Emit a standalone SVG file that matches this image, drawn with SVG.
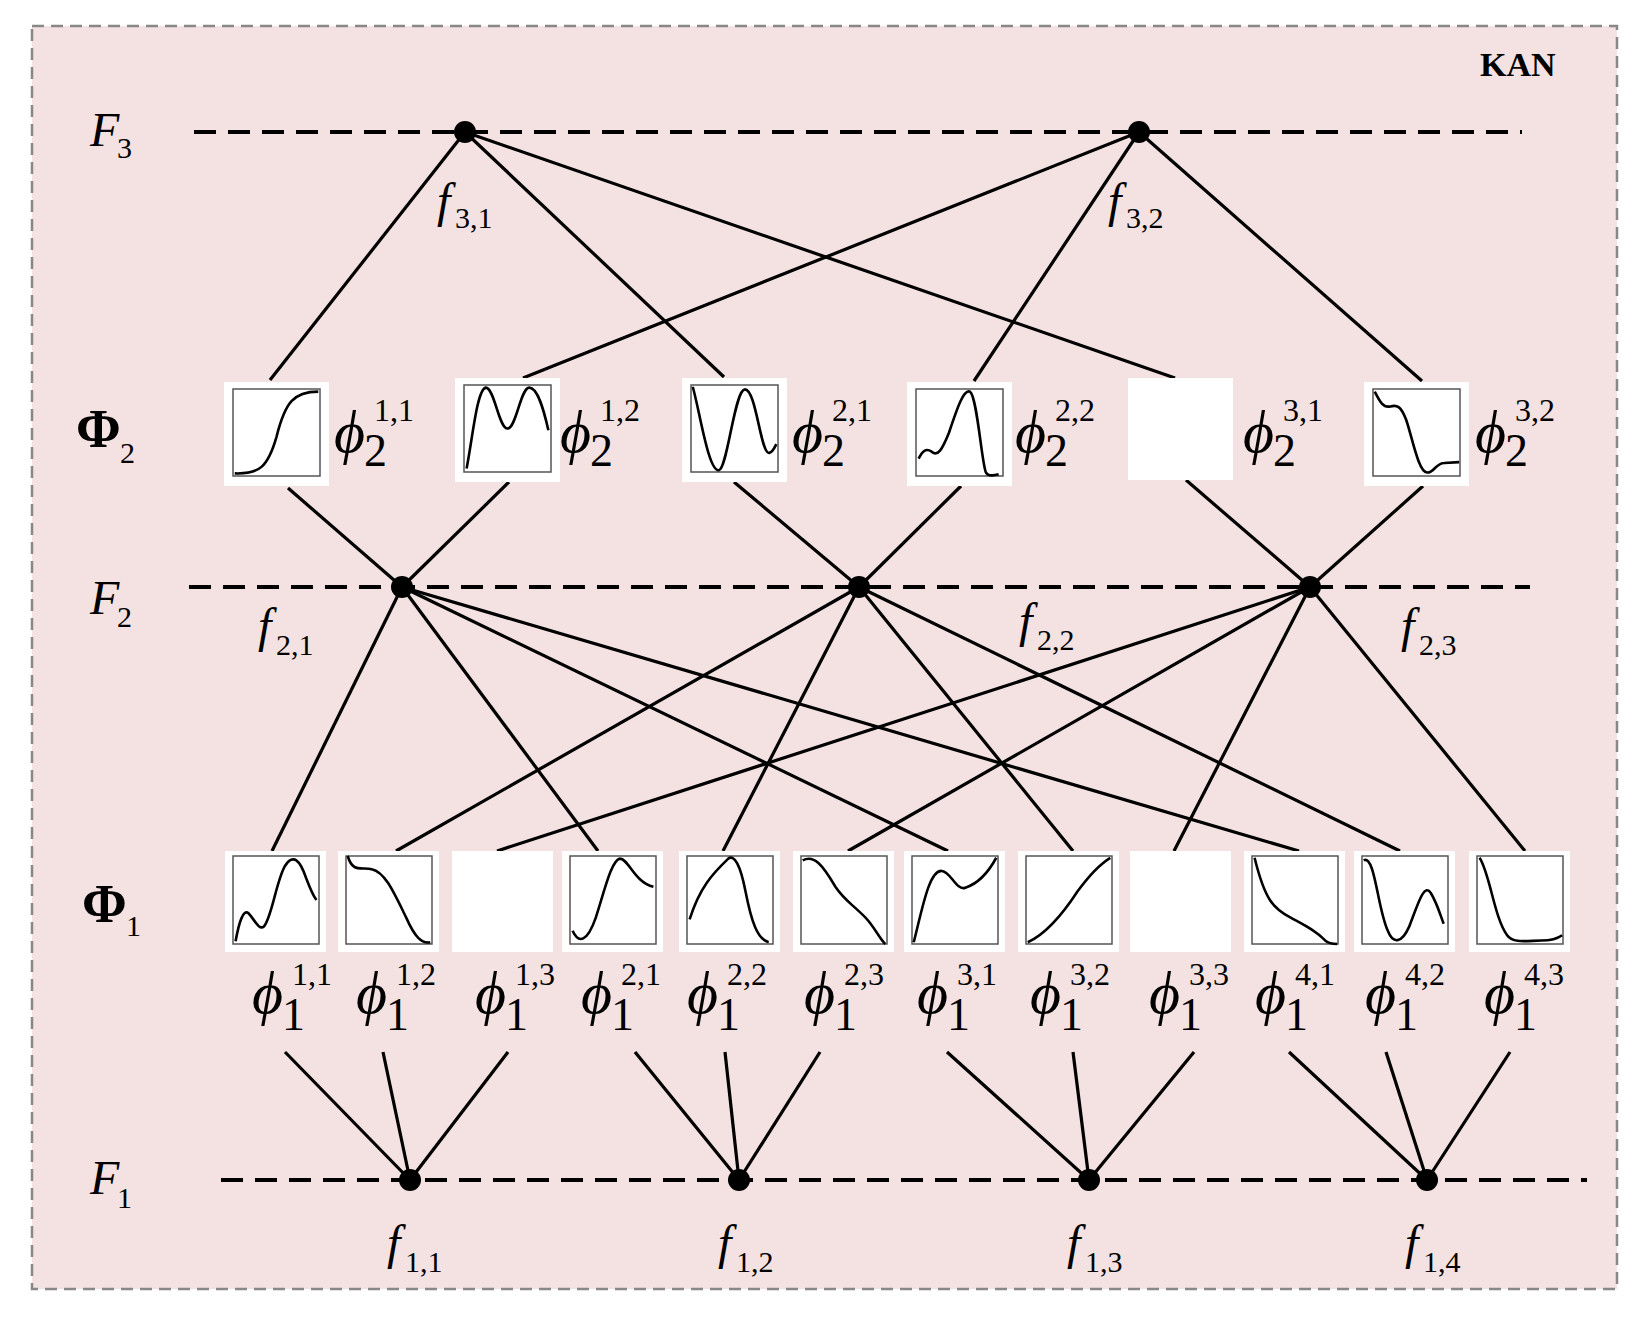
<svg xmlns="http://www.w3.org/2000/svg" width="1644" height="1320" viewBox="0 0 1644 1320">
<style>
.t{font-family:"Liberation Serif",serif;fill:#000}
.i{font-style:italic}
.ph{font-family:"Liberation Serif","DejaVu Serif",serif;font-style:italic;font-size:60px}
.sup{font-family:"Liberation Serif",serif;font-size:32px}
.sub{font-family:"Liberation Serif",serif;font-size:46px}
.fs{font-family:"Liberation Serif",serif;font-size:30px}
.c{stroke:#000;stroke-width:3.2;fill:none}
.lay{stroke:#000;stroke-width:4;stroke-dasharray:22,12;fill:none}
.pan{fill:#fff}
.fr{fill:none;stroke:#555;stroke-width:1.5}
.cv{fill:none;stroke:#000;stroke-width:3}
</style>
<rect x="0" y="0" width="1644" height="1320" fill="#fff"/>
<rect x="32" y="26" width="1585" height="1263" fill="#f3e2e1" stroke="#888" stroke-width="2.5" stroke-dasharray="12,7"/>
<text class="t" x="1480" y="76" font-size="34" font-weight="bold">KAN</text>
<g id="layers">
<line class="lay" x1="194" y1="132" x2="1522" y2="132"/>
<line class="lay" x1="189" y1="587" x2="1530" y2="587"/>
<line class="lay" x1="221" y1="1180" x2="1587" y2="1180"/>
</g>
<g id="connectors">
<line class="c" x1="465" y1="132" x2="270" y2="380"/>
<line class="c" x1="465" y1="132" x2="724" y2="377"/>
<line class="c" x1="465" y1="132" x2="1175" y2="378"/>
<line class="c" x1="1139" y1="132" x2="523" y2="378"/>
<line class="c" x1="1139" y1="132" x2="974" y2="381"/>
<line class="c" x1="1139" y1="132" x2="1422" y2="381"/>
<line class="c" x1="402" y1="587" x2="288" y2="488"/>
<line class="c" x1="402" y1="587" x2="509" y2="482"/>
<line class="c" x1="859" y1="587" x2="734" y2="482"/>
<line class="c" x1="859" y1="587" x2="961" y2="486"/>
<line class="c" x1="1310" y1="587" x2="1186" y2="480"/>
<line class="c" x1="1310" y1="587" x2="1423" y2="486"/>
<line class="c" x1="402" y1="587" x2="272" y2="851"/>
<line class="c" x1="402" y1="587" x2="598" y2="851"/>
<line class="c" x1="402" y1="587" x2="948" y2="851"/>
<line class="c" x1="402" y1="587" x2="1299" y2="851"/>
<line class="c" x1="859" y1="587" x2="396" y2="851"/>
<line class="c" x1="859" y1="587" x2="723" y2="851"/>
<line class="c" x1="859" y1="587" x2="1073" y2="851"/>
<line class="c" x1="859" y1="587" x2="1400" y2="851"/>
<line class="c" x1="1310" y1="587" x2="497" y2="851"/>
<line class="c" x1="1310" y1="587" x2="848" y2="851"/>
<line class="c" x1="1310" y1="587" x2="1174" y2="851"/>
<line class="c" x1="1310" y1="587" x2="1525" y2="851"/>
<line class="c" x1="410" y1="1180" x2="285" y2="1052"/>
<line class="c" x1="410" y1="1180" x2="383" y2="1052"/>
<line class="c" x1="410" y1="1180" x2="508" y2="1052"/>
<line class="c" x1="739" y1="1180" x2="635" y2="1052"/>
<line class="c" x1="739" y1="1180" x2="725" y2="1052"/>
<line class="c" x1="739" y1="1180" x2="820" y2="1052"/>
<line class="c" x1="1089" y1="1180" x2="947" y2="1052"/>
<line class="c" x1="1089" y1="1180" x2="1073" y2="1052"/>
<line class="c" x1="1089" y1="1180" x2="1194" y2="1052"/>
<line class="c" x1="1427" y1="1180" x2="1289" y2="1052"/>
<line class="c" x1="1427" y1="1180" x2="1386" y2="1052"/>
<line class="c" x1="1427" y1="1180" x2="1510" y2="1052"/>
</g>
<g id="nodes">
<g id="f31"><circle cx="465" cy="132" r="11"/><text class="t i" x="437" y="217" font-size="48">f</text><text class="fs" x="455" y="228">3,1</text></g>
<g id="f32"><circle cx="1139" cy="132" r="11"/><text class="t i" x="1108" y="217" font-size="48">f</text><text class="fs" x="1126" y="228">3,2</text></g>
<g id="f21"><circle cx="402" cy="587" r="11"/><text class="t i" x="258" y="642" font-size="48">f</text><text class="fs" x="276" y="655">2,1</text></g>
<g id="f22"><circle cx="859" cy="587" r="11"/><text class="t i" x="1019" y="637" font-size="48">f</text><text class="fs" x="1037" y="650">2,2</text></g>
<g id="f23"><circle cx="1310" cy="587" r="11"/><text class="t i" x="1401" y="642" font-size="48">f</text><text class="fs" x="1419" y="655">2,3</text></g>
<g id="f11"><circle cx="410" cy="1180" r="11"/><text class="t i" x="387" y="1259" font-size="48">f</text><text class="fs" x="405" y="1272">1,1</text></g>
<g id="f12"><circle cx="739" cy="1180" r="11"/><text class="t i" x="718" y="1259" font-size="48">f</text><text class="fs" x="736" y="1272">1,2</text></g>
<g id="f13"><circle cx="1089" cy="1180" r="11"/><text class="t i" x="1067" y="1259" font-size="48">f</text><text class="fs" x="1085" y="1272">1,3</text></g>
<g id="f14"><circle cx="1427" cy="1180" r="11"/><text class="t i" x="1405" y="1259" font-size="48">f</text><text class="fs" x="1423" y="1272">1,4</text></g>
</g>
<g id="layer-labels">
<text class="t i" x="90" y="146" font-size="48">F</text><text class="fs" x="117" y="158">3</text>
<text class="t i" x="90" y="614" font-size="48">F</text><text class="fs" x="117" y="627">2</text>
<text class="t i" x="90" y="1194" font-size="48">F</text><text class="fs" x="117" y="1208">1</text>
<text class="t" x="76" y="447" font-size="54" font-weight="bold">Φ</text><text class="fs" x="120" y="463">2</text>
<text class="t" x="82" y="922" font-size="54" font-weight="bold">Φ</text><text class="fs" x="126" y="936">1</text>
</g>
<defs>
<g id="p1"><rect class="pan" width="101" height="101"/><rect class="fr" x="8" y="5" width="86" height="88"/></g>
<g id="p2"><rect class="pan" width="105" height="104"/><rect class="fr" x="9" y="7" width="87" height="87"/></g>
</defs>
<g id="phi2-11"><use href="#p2" x="224" y="382"/><path class="cv" transform="translate(233,389) scale(0.87)" d="M2,97 C30,98 40,90 50,55 C60,15 70,3 98,3"/>
<text class="ph" x="334" y="452">ϕ</text><text class="sub" x="364" y="466">2</text><text class="sup" x="374" y="421">1,1</text></g>
<g id="phi2-12"><use href="#p2" x="455" y="378"/><path class="cv" transform="translate(464,385) scale(0.87)" d="M3,96 C10,60 15,5 25,3 C35,3 40,50 50,50 C60,50 65,3 75,3 C85,3 92,30 97,52"/>
<text class="ph" x="560" y="452">ϕ</text><text class="sub" x="590" y="466">2</text><text class="sup" x="600" y="421">1,2</text></g>
<g id="phi2-21"><use href="#p2" x="682" y="378"/><path class="cv" transform="translate(691,385) scale(0.87)" d="M2,2 C10,30 20,100 32,98 C42,96 50,5 62,5 C75,5 80,80 90,78 C94,77 96,72 98,68"/>
<text class="ph" x="792" y="452">ϕ</text><text class="sub" x="822" y="466">2</text><text class="sup" x="832" y="421">2,1</text></g>
<g id="phi2-22"><use href="#p2" x="907" y="382"/><path class="cv" transform="translate(916,389) scale(0.87)" d="M3,80 C8,70 12,68 18,72 C25,78 30,70 38,50 C48,20 55,0 62,3 C70,8 75,80 80,95 C82,100 88,100 95,98"/>
<text class="ph" x="1015" y="452">ϕ</text><text class="sub" x="1045" y="466">2</text><text class="sup" x="1055" y="421">2,2</text></g>
<g id="phi2-31"><rect class="pan" x="1128" y="378" width="105" height="102"/>
<text class="ph" x="1243" y="452">ϕ</text><text class="sub" x="1273" y="466">2</text><text class="sup" x="1283" y="421">3,1</text></g>
<g id="phi2-32"><use href="#p2" x="1364" y="382"/><path class="cv" transform="translate(1373,389) scale(0.87)" d="M2,3 C8,15 12,22 20,20 C28,18 32,20 38,35 C45,55 52,95 62,96 C70,97 72,85 82,85 L99,84"/>
<text class="ph" x="1475" y="452">ϕ</text><text class="sub" x="1505" y="466">2</text><text class="sup" x="1515" y="421">3,2</text></g>
<g id="phi1-11"><use href="#p1" x="225" y="851"/><path class="cv" transform="translate(233,856) scale(0.86,0.88)" d="M3,97 C7,75 12,60 18,65 C25,72 30,85 36,80 C45,70 50,30 60,12 C70,-4 78,5 85,25 C90,38 93,45 97,50"/>
<text class="ph" x="252" y="1013">ϕ</text><text class="sub" x="282" y="1030">1</text><text class="sup" x="292" y="985">1,1</text></g>
<g id="phi1-12"><use href="#p1" x="338" y="851"/><path class="cv" transform="translate(346,856) scale(0.86,0.88)" d="M2,0 C8,20 18,12 30,15 C45,18 55,40 70,70 C80,92 88,100 98,98"/>
<text class="ph" x="356" y="1013">ϕ</text><text class="sub" x="386" y="1030">1</text><text class="sup" x="396" y="985">1,2</text></g>
<g id="phi1-13"><rect class="pan" x="452" y="851" width="101" height="101"/>
<text class="ph" x="475" y="1013">ϕ</text><text class="sub" x="505" y="1030">1</text><text class="sup" x="515" y="985">1,3</text></g>
<g id="phi1-21"><use href="#p1" x="562" y="851"/><path class="cv" transform="translate(570,856) scale(0.86,0.88)" d="M3,85 C10,100 20,98 30,70 C40,40 48,5 58,3 C68,3 75,30 97,35"/>
<text class="ph" x="581" y="1013">ϕ</text><text class="sub" x="611" y="1030">1</text><text class="sup" x="621" y="985">2,1</text></g>
<g id="phi1-22"><use href="#p1" x="679" y="851"/><path class="cv" transform="translate(687,856) scale(0.86,0.88)" d="M3,72 C15,35 30,20 48,3 C55,-2 62,10 68,40 C75,75 82,95 95,98"/>
<text class="ph" x="687" y="1013">ϕ</text><text class="sub" x="717" y="1030">1</text><text class="sup" x="727" y="985">2,2</text></g>
<g id="phi1-23"><use href="#p1" x="793" y="851"/><path class="cv" transform="translate(801,856) scale(0.86,0.88)" d="M2,5 C15,-2 25,10 40,35 C50,50 60,55 75,70 C85,80 92,95 98,100"/>
<text class="ph" x="804" y="1013">ϕ</text><text class="sub" x="834" y="1030">1</text><text class="sup" x="844" y="985">2,3</text></g>
<g id="phi1-31"><use href="#p1" x="904" y="851"/><path class="cv" transform="translate(912,856) scale(0.86,0.88)" d="M2,98 C12,60 20,15 35,17 C45,18 52,40 62,36 C75,32 88,20 98,2"/>
<text class="ph" x="917" y="1013">ϕ</text><text class="sub" x="947" y="1030">1</text><text class="sup" x="957" y="985">3,1</text></g>
<g id="phi1-32"><use href="#p1" x="1018" y="851"/><path class="cv" transform="translate(1026,856) scale(0.86,0.88)" d="M2,98 C20,90 40,70 60,40 C75,20 88,8 98,2"/>
<text class="ph" x="1030" y="1013">ϕ</text><text class="sub" x="1060" y="1030">1</text><text class="sup" x="1070" y="985">3,2</text></g>
<g id="phi1-33"><rect class="pan" x="1130" y="851" width="101" height="101"/>
<text class="ph" x="1149" y="1013">ϕ</text><text class="sub" x="1179" y="1030">1</text><text class="sup" x="1189" y="985">3,3</text></g>
<g id="phi1-41"><use href="#p1" x="1244" y="851"/><path class="cv" transform="translate(1252,856) scale(0.86,0.88)" d="M3,2 C15,50 25,60 45,70 C60,78 75,85 85,96 C90,100 95,100 99,100"/>
<text class="ph" x="1255" y="1013">ϕ</text><text class="sub" x="1285" y="1030">1</text><text class="sup" x="1295" y="985">4,1</text></g>
<g id="phi1-42"><use href="#p1" x="1354" y="851"/><path class="cv" transform="translate(1362,856) scale(0.86,0.88)" d="M2,5 C15,-2 18,60 30,85 C36,100 46,100 55,80 C65,55 72,30 80,42 C88,55 92,70 95,77"/>
<text class="ph" x="1365" y="1013">ϕ</text><text class="sub" x="1395" y="1030">1</text><text class="sup" x="1405" y="985">4,2</text></g>
<g id="phi1-43"><use href="#p1" x="1469" y="851"/><path class="cv" transform="translate(1477,856) scale(0.86,0.88)" d="M3,2 C15,20 20,70 35,90 C42,100 60,96 75,96 C85,96 92,95 99,90"/>
<text class="ph" x="1484" y="1013">ϕ</text><text class="sub" x="1514" y="1030">1</text><text class="sup" x="1524" y="985">4,3</text></g>
</svg>
